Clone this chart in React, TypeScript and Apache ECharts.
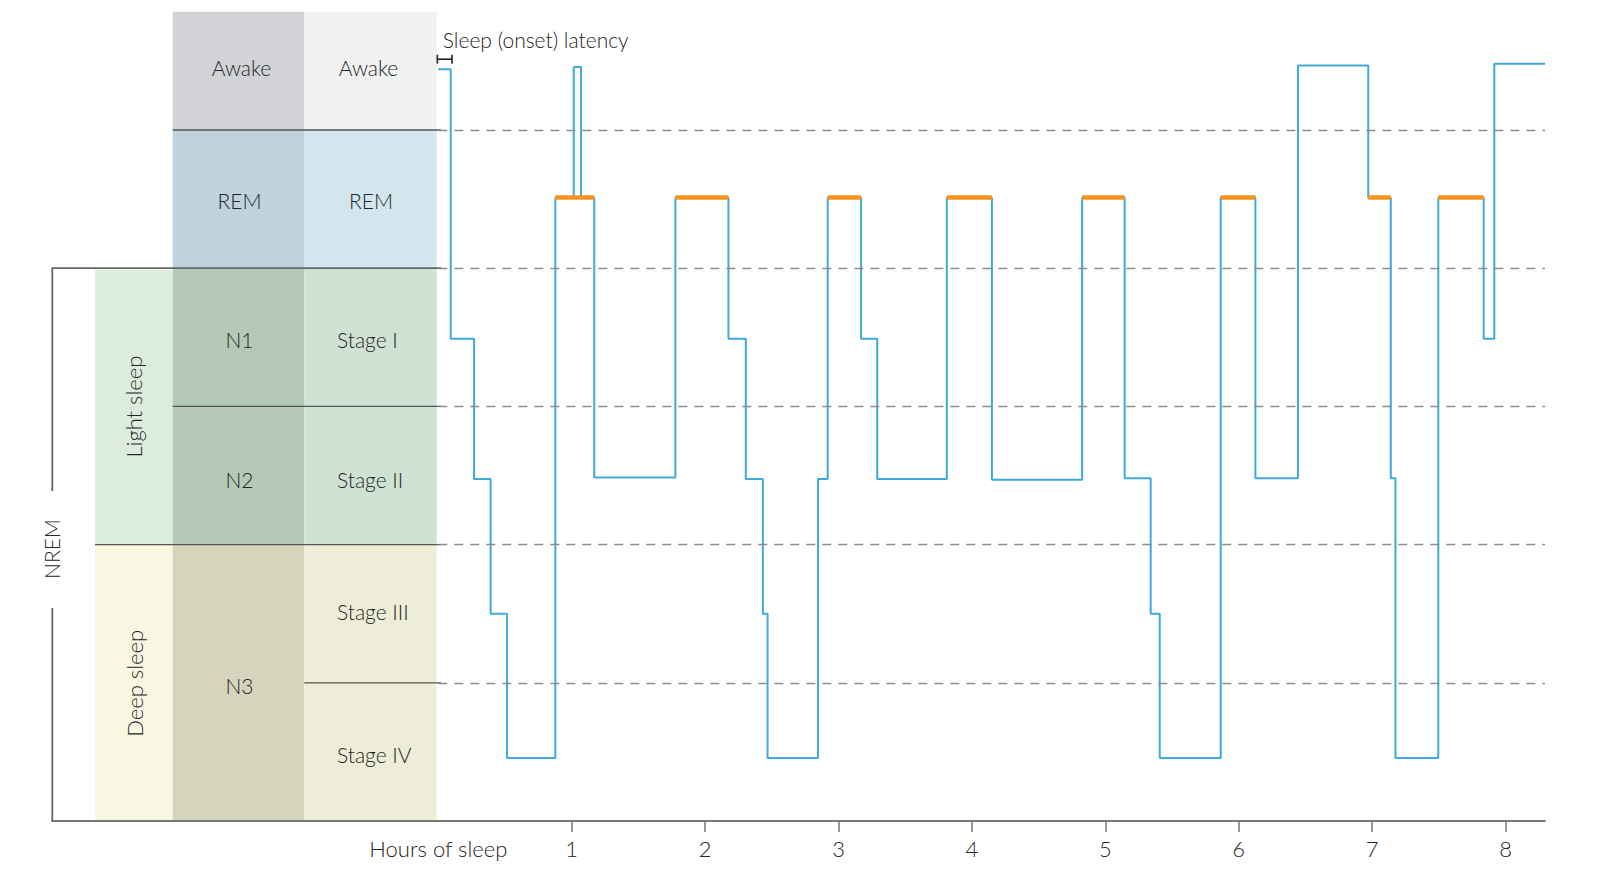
import React, { useEffect, useRef } from "react";
import * as echarts from "echarts";

// Hypnogram: time (hours) at which each stage begins, and the plotted level of that stage
const stageTimes = [
  0, 0.093, 0.268, 0.392, 0.515, 0.877, 1.015, 1.07, 1.169, 1.777, 2.175, 2.305, 2.433, 2.468,
  2.846, 2.919, 3.169, 3.29, 3.812, 4.15, 4.826, 5.145, 5.34, 5.408, 5.865, 6.125, 6.444, 6.971,
  7.14, 7.175, 7.496, 7.836, 7.916,
];
const stageLevels = [
  5.44, 3.49, 2.475, 1.5, 0.455, 4.51, 5.455, 4.51, 2.485, 4.51, 3.49, 2.475, 1.5, 0.455, 2.475,
  4.51, 3.49, 2.475, 4.51, 2.47, 4.51, 2.48, 1.5, 0.455, 4.51, 2.48, 5.466, 4.51, 2.48, 0.455,
  4.51, 3.49, 5.48,
];
const sleepEnd = 8.296;

// REM periods (highlighted in orange)
const remPeriods = [
  [0.877, 1.169],
  [1.777, 2.175],
  [2.919, 3.169],
  [3.812, 4.15],
  [4.826, 5.145],
  [5.865, 6.125],
  [6.971, 7.14],
  [7.496, 7.836],
];
const remLevel = 4.51;

// stage boundaries (dashed lines) and axis ticks
const boundaryLevels = [1, 2, 3, 4, 5];
const hourTicks = [1, 2, 3, 4, 5, 6, 7, 8];
const xMin = -2.896;
const xMax = 8.296;
const yMax = 5.856;

const FONT = "Lato";
const TEXT = "#262626";

export default function App() {
  const ref = useRef<HTMLDivElement>(null);

  useEffect(() => {
    if (!ref.current) return;
    const chart = echarts.init(ref.current, null, { renderer: "svg" });

    const lineData: number[][] = stageTimes.map((t, i) => [t, stageLevels[i]]);
    lineData.push([sleepEnd, stageLevels[stageLevels.length - 1]]);

    chart.setOption({
      animation: false,
      grid: {
        left: 52,
        right: 55,
        top: 11.7,
        bottom: 54,
        containLabel: false,
        outerBoundsMode: "none",
      },
      xAxis: {
        type: "value",
        min: xMin,
        max: xMax,
        splitLine: { show: false },
        axisLine: { lineStyle: { color: "#777", width: 1.8 } },
        axisTick: {
          customValues: hourTicks,
          length: 11,
          lineStyle: { color: "#777", width: 1.5 },
        },
        axisLabel: {
          customValues: [0, ...hourTicks],
          formatter: (v: number) => (v === 0 ? "Hours of sleep" : String(v)),
          color: TEXT,
          fontSize: 22,
          fontFamily: FONT,
          fontWeight: 300,
          margin: 16,
        },
      },
      yAxis: { type: "value", min: 0, max: yMax, show: false },
      series: [
        {
          type: "line",
          step: "end",
          data: lineData,
          symbol: "none",
          z: 3,
          lineStyle: { color: "#3fa9dc", width: 2 },
          markLine: {
            silent: true,
            symbol: ["none", "none"],
            label: { show: false },
            lineStyle: { type: [9, 7], color: "#8c8c8c", width: 1.4 },
            data: boundaryLevels.map((v) => [{ coord: [0, v] }, { coord: [xMax, v] }]),
          },
        },
        {
          type: "lines",
          coordinateSystem: "cartesian2d",
          z: 4,
          silent: true,
          lineStyle: { color: "#f7941d", width: 4.5, opacity: 1 },
          data: remPeriods.map(([s, e]) => ({
            coords: [
              [s, remLevel],
              [e, remLevel],
            ],
          })),
        },
      ],
    });

    const py = (v: number) => chart.convertToPixel({ gridIndex: 0 }, [0, v])[1] as number;
    const px = (h: number) => chart.convertToPixel({ gridIndex: 0 }, [h, 0])[0] as number;

    const r = [py(yMax), py(5), py(4), py(3), py(2), py(1), py(0)];
    const cA = 52.3;
    const cB = 95;
    const cC = 172.7;
    const cD = 304.3;
    const cE = 436.7;
    const lineEnd = 441;

    const rect = (x1: number, x2: number, y1: number, y2: number, fill: string) => ({
      type: "rect",
      shape: { x: x1, y: y1, width: x2 - x1, height: y2 - y1 },
      style: { fill },
      silent: true,
      z: 1,
    });
    const hline = (x1: number, x2: number, y: number, color = "#555", w = 1.3) => ({
      type: "line",
      shape: { x1, y1: y, x2, y2: y },
      style: { stroke: color, lineWidth: w },
      silent: true,
      z: 2,
    });
    const vline = (x: number, y1: number, y2: number, color = "#222", w = 1.6, z = 5) => ({
      type: "line",
      shape: { x1: x, y1, x2: x, y2 },
      style: { stroke: color, lineWidth: w },
      silent: true,
      z,
    });
    const text = (
      t: string,
      x: number,
      y: number,
      align: string = "center",
      rotation = 0,
      size = 21
    ) => ({
      type: "text",
      x,
      y,
      rotation,
      silent: true,
      z: 3,
      style: {
        text: t,
        fill: TEXT,
        font: `300 ${size}px ${FONT}`,
        fontFamily: FONT,
        fontSize: size,
        fontWeight: 300,
        align,
        verticalAlign: "middle",
      },
    });

    const bottom = r[6] - 1;
    const x0 = px(0) - 1;
    const x1 = px(stageTimes[1]) + 1.3;
    const hy = py(stageLevels[0]) - 10;

    chart.setOption({
      graphic: [
        // column B: light / deep sleep
        rect(cB, cC, r[2] + 1.5, r[4], "#dcedde"),
        rect(cB, cC, r[4], bottom, "#f7f7e2"),
        // column C
        rect(cC, cD, r[0], r[1], "#d2d3d6"),
        rect(cC, cD, r[1], r[2], "#bed3dd"),
        rect(cC, cD, r[2], r[4], "#b4c9b8"),
        rect(cC, cD, r[4], bottom, "#d5d4bd"),
        // column D
        rect(cD, cE, r[0], r[1], "#f0f2f1"),
        rect(cD, cE, r[1], r[2], "#d3e6ee"),
        rect(cD, cE, r[2], r[4], "#d0e2d3"),
        rect(cD, cE, r[4], bottom, "#eeeed8"),
        // row separators
        hline(cC, lineEnd, r[1]),
        hline(cA - 0.9, lineEnd, r[2], "#666", 1.8),
        hline(cC, lineEnd, r[3]),
        hline(cB, lineEnd, r[4]),
        hline(cD, lineEnd, r[5]),
        // NREM bracket
        vline(cA, r[2], 491, "#666", 1.8, 2),
        vline(cA, 608, r[6], "#666", 1.8, 2),
        text("NREM", 51.5, 549, "center", Math.PI / 2, 21),
        text("Light sleep", 133.5, 406.6, "center", Math.PI / 2, 22),
        text("Deep sleep", 134, 683.3, "center", Math.PI / 2, 22),
        // column C labels
        text("Awake", 241.5, r[1] - 62, "center"),
        text("REM", 239.5, r[2] - 68, "center"),
        text("N1", 239.5, r[3] - 67, "center"),
        text("N2", 239.5, r[4] - 65.5, "center"),
        text("N3", 239.5, r[5] + 2.5, "center"),
        // column D labels
        text("Awake", 368.5, r[1] - 62, "center"),
        text("REM", 371, r[2] - 68, "center"),
        text("Stage I", 337, r[3] - 67, "left"),
        text("Stage II", 337, r[4] - 65.5, "left"),
        text("Stage III", 337, r[5] - 71, "left"),
        text("Stage IV", 337, r[6] - 67, "left"),
        // sleep onset latency marker
        {
          type: "line",
          shape: { x1: x0, y1: hy, x2: x1, y2: hy },
          style: { stroke: "#222", lineWidth: 1.6 },
          silent: true,
          z: 5,
        },
        vline(x0, hy - 4.5, hy + 4.5),
        vline(x1, hy - 4.5, hy + 4.5),
        text("Sleep (onset) latency", x0 + 5.5, 39, "left", 0, 21),
      ],
    });

    return () => {
      chart.dispose();
    };
  }, []);

  return (
    <div
      ref={ref}
      style={{ position: "absolute", left: 0, top: 0, width: 1600, height: 875, background: "#fff" }}
    />
  );
}
